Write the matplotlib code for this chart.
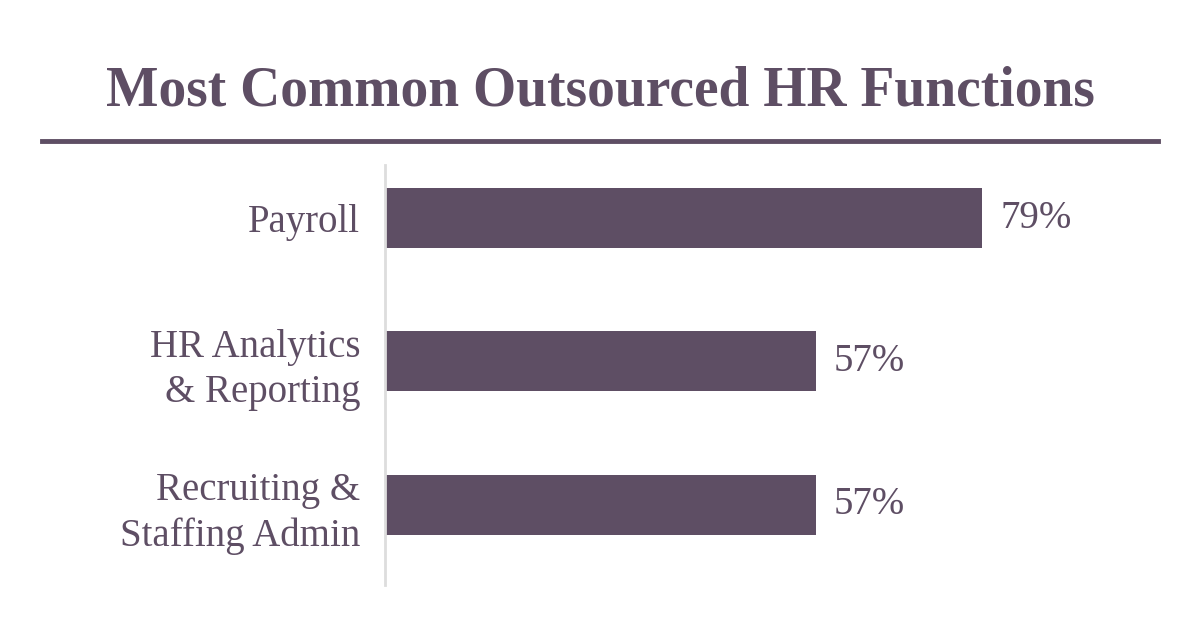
import matplotlib
matplotlib.use("Agg")
import matplotlib.pyplot as plt

categories = ["Payroll", "HR Analytics\n& Reporting", "Recruiting &\nStaffing Admin"]
values = [79, 57, 57]
labels = ["79%", "57%", "57%"]

col = "#5e4e64"
plt.rcParams['font.family'] = ['Liberation Serif', 'DejaVu Serif']
fig = plt.figure(figsize=(12, 6.27), dpi=100)
fig.text(0.5, 1 - 92/627, "Most Common Outsourced HR Functions", ha="center", va="center",
         fontsize=40, fontweight="bold", color=col)
fig.add_artist(plt.Line2D([42/1200, 1158/1200], [1-141/627]*2, color=col, lw=3.5))

ax = fig.add_axes([385/1200, 1-585/627, 775/1200, 420/627])
pos = list(range(len(categories)))
ax.barh(pos, values, height=0.42, color=col)
ax.set_xlim(0, 79*775/597)
ax.set_ylim(2.56, -0.37)
for p, v, l in zip(pos, values, labels):
    ax.text(v + 2.4, p, l, va="center", ha="left", fontsize=28, color=col)
ax.set_yticks(pos)
ax.set_yticklabels(categories, fontsize=28, color=col, linespacing=1.3)
ax.tick_params(axis="y", length=0, pad=18)
ax.set_xticks([])
for s in ["top", "right", "bottom"]:
    ax.spines[s].set_visible(False)
ax.spines["left"].set_color("#dddddd")
ax.spines["left"].set_linewidth(2)
fig.savefig("out.png", dpi=100, facecolor="white")
